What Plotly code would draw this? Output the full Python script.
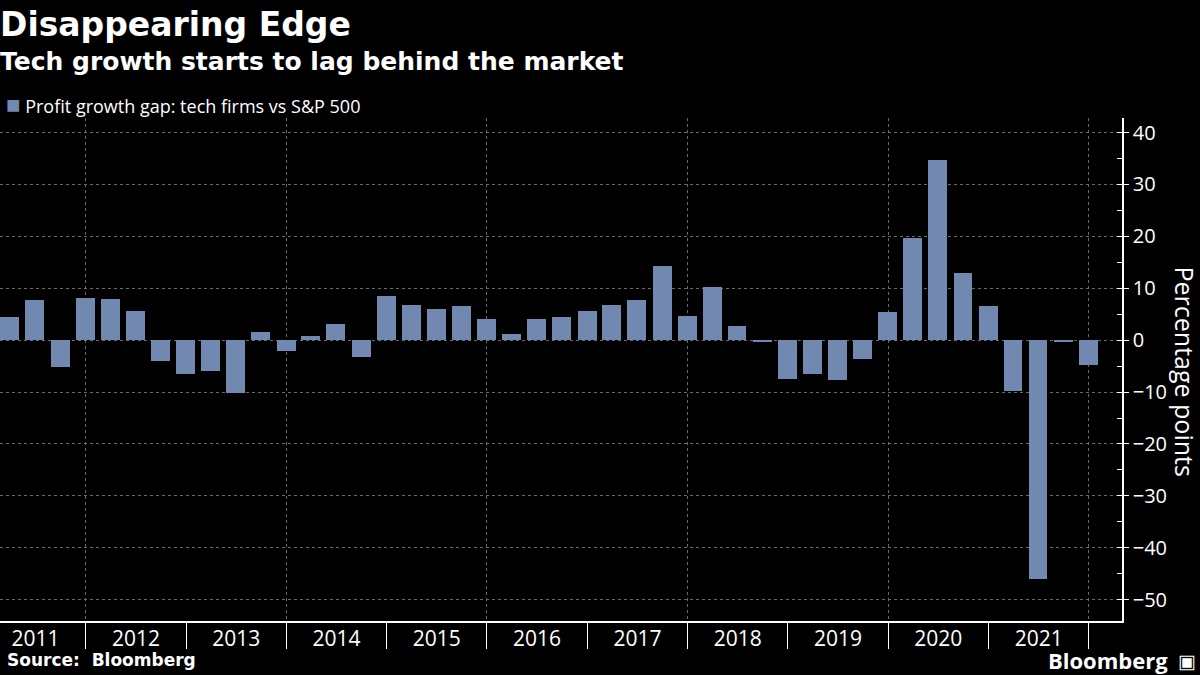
import pandas as pd
import plotly.graph_objects as go

#%%-----------------------------------------------------------------------
# DATA: profit growth gap, tech firms vs S&P 500 (percentage points), quarterly

quarter_end = pd.date_range("2011-01-01", "2021-12-31", freq="QE")

profit_gap_pp = [
    4.5, 7.8, -5.1, 8.2,      # 2011
    8.0, 5.7, -4.1, -6.6,     # 2012
    -5.9, -10.1, 1.6, -2.0,   # 2013
    0.8, 3.2, -3.3, 8.6,      # 2014
    6.8, 6.0, 6.6, 4.1,       # 2015
    1.2, 4.1, 4.5, 5.7,       # 2016
    6.8, 7.8, 14.3, 4.7,      # 2017
    10.3, 2.8, -0.3, -7.4,    # 2018
    -6.6, -7.6, -3.7, 5.5,    # 2019
    19.6, 34.8, 13.0, 6.6,    # 2020
    -9.7, -46.0, -0.2, -4.7,  # 2021
]

series_name = "Profit growth gap: tech firms vs S&P 500"
y_ticks = [-50, -40, -30, -20, -10, 0, 10, 20, 30, 40]

x_range = ["2011-02-23", "2022-05-02"]
y_range = [-54.1, 42.8]

bar_color = "#7189B0"
grid_color = "#6a6a6a"
font_family = "Open Sans, Lato, sans-serif"
bold_family = "DejaVu Sans, sans-serif"

#%%-----------------------------------------------------------------------
# PLOT

fig = go.Figure()

fig.add_trace(go.Bar(
    x=quarter_end,
    y=profit_gap_pp,
    name=series_name,
    marker=dict(color=bar_color, line=dict(width=0)),
    width=69 * 24 * 3600 * 1000,   # ~3/4 of a quarter, in ms
    showlegend=False,
))

# empty trace so that the 2-year grid axis is drawn
fig.add_trace(go.Scatter(x=quarter_end[:1], y=[None], xaxis="x2", showlegend=False,
                         hoverinfo="skip"))

fig.update_layout(
    width=1200, height=675,
    paper_bgcolor="black", plot_bgcolor="black",
    margin=dict(l=0, r=78, t=118, b=54),
    font=dict(family=font_family, color="white"),
    bargap=0,
    xaxis=dict(
        type="date",
        range=x_range,
        tick0="2011-01-01", dtick="M12",
        tickformat="%Y",
        ticklabelmode="period",
        ticks="outside", ticklen=26, tickwidth=1, tickcolor="white",
        ticklabelstandoff=-28,
        tickfont=dict(size=21, color="white"),
        showgrid=False,
        showline=True, linecolor="white", linewidth=1.5,
        zeroline=False,
    ),
    xaxis2=dict(
        type="date",
        overlaying="x", matches="x", anchor="y",
        range=x_range,
        tick0="2012-01-01", dtick="M24",
        showticklabels=False, ticks="",
        showgrid=True, gridcolor=grid_color, griddash="dot", gridwidth=1,
        zeroline=False,
    ),
    yaxis=dict(
        side="right",
        range=y_range,
        tickvals=y_ticks,
        ticks="outside", ticklen=5, tickcolor="white",
        tickfont=dict(size=20, color="white"),
        showgrid=True, gridcolor=grid_color, griddash="dot", gridwidth=1,
        showline=True, linecolor="white", linewidth=1.5,
        zeroline=False,
        minor=dict(dtick=5, tick0=5, ticks="inside", ticklen=5, tickcolor="white"),
    ),
)

# Titles, legend key, axis title, source
fig.add_annotation(text="<b>Disappearing Edge</b>", xref="paper", yref="paper",
                   x=0, y=1, xanchor="left", yanchor="top", showarrow=False,
                   xshift=-2, yshift=115, font=dict(size=33, family=bold_family, color="white"))
fig.add_annotation(text="<b>Tech growth starts to lag behind the market</b>",
                   xref="paper", yref="paper", x=0, y=1, xanchor="left", yanchor="top",
                   showarrow=False, xshift=-2, yshift=73,
                   font=dict(size=25, family=bold_family, color="white"))
fig.add_annotation(text="<span style='color:%s;font-size:24px'>■</span> %s" % (bar_color, series_name),
                   xref="paper", yref="paper", x=0, y=1, xanchor="left", yanchor="top",
                   showarrow=False, xshift=4, yshift=33,
                   font=dict(size=18, color="white"))
fig.add_annotation(text="Percentage points", xref="paper", yref="paper",
                   x=1, y=0.5, xanchor="center", yanchor="middle", textangle=90,
                   showarrow=False, xshift=63, yshift=-2,
                   font=dict(size=25, color="white"))
fig.add_annotation(text="<b>Source:  Bloomberg</b>", xref="paper", yref="paper",
                   x=0, y=0, xanchor="left", yanchor="top", showarrow=False,
                   xshift=5, yshift=-27, font=dict(size=17, family=bold_family, color="white"))
fig.add_annotation(text="<b>Bloomberg</b>", xref="paper", yref="paper",
                   x=1, y=0, xanchor="right", yanchor="top", showarrow=False,
                   xshift=48, yshift=-22, font=dict(size=22, color="white"))
fig.add_annotation(text="▣", xref="paper", yref="paper",
                   x=1, y=0, xanchor="right", yanchor="top", showarrow=False,
                   xshift=76, yshift=-25, font=dict(size=19, color="white"))

fig.write_html("out.html", config={"displayModeBar": False},
               post_script="document.body.style.margin='0';")
